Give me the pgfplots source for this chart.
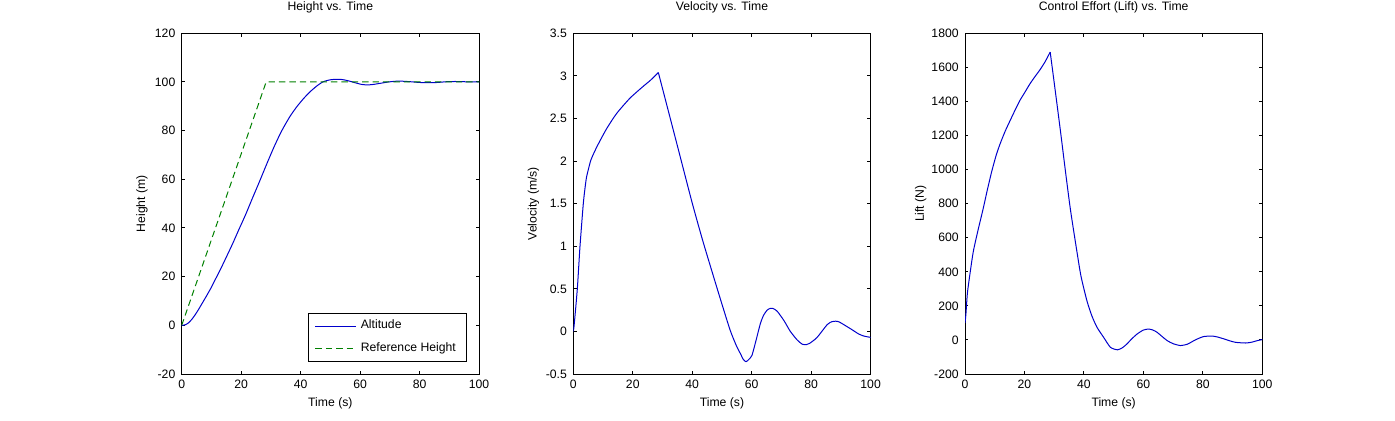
\documentclass[border=0pt]{standalone}
\usepackage{pgfplots}
\pgfplotsset{compat=1.18}
\usepackage{fontspec}
\setmainfont{Liberation Sans}

\definecolor{mblue}{rgb}{0,0,0.8}
\definecolor{mgreen}{rgb}{0,0.5,0}

% Altitude response (s, m)
\pgfplotstableread{
t h
0 0
0.7 0.08
1.35 0.3
2.25 1.0
3.36 2.4
4.5 4.3
5.8 6.8
7 9.3
8.4 12.2
10 15.7
11.2 18.6
13 22.9
14.6 27
17 33.2
19.1 39
21.5 45.5
23.6 51.7
26 58.6
28.6 66.3
30.8 72.6
32.5 77.1
34.2 81.2
36.5 86.0
38.7 89.8
41 93.2
43.2 96
45.5 98.4
47.6 100.1
50 100.9
52 101.1
54 101
56 100.5
58 99.8
60.5 99
62.5 98.8
64.5 99
67 99.5
69.5 100
72 100.3
74.5 100.3
77 100.1
80 99.8
83 99.7
86 99.8
89 100.1
92 100.2
95 100.1
100 100
}\altitude

% Reference height ramp
\pgfplotstableread{
t h
0 0
28.4 100
100 100
}\refheight

% Vertical velocity while the reference ramps (s, m/s)
\pgfplotstableread{
t v
0 0
0.3 0.08
1.35 0.5
2.25 1.0
3.36 1.5
4 1.7
4.5 1.82
5.8 2.0
7 2.1
8.4 2.2
11.2 2.38
14.6 2.56
19.1 2.74
23.6 2.88
26 2.95
28.6 3.04
}\velocityA

% Vertical velocity after the ramp (s, m/s)
\pgfplotstableread{
t v
28.6 3.04
35 2.18
39.9 1.52
43.5 1.07
47.2 0.64
50 0.32
52.8 0.01
55 -0.18
56.2 -0.26
57.2 -0.33
58.1 -0.355
59 -0.33
60.1 -0.28
61.5 -0.1
62.9 0.09
64 0.19
65.2 0.25
66.2 0.27
67.1 0.27
68.5 0.24
70.8 0.13
73 0.0
75.3 -0.1
77 -0.15
78.4 -0.155
79.5 -0.14
82 -0.07
85.4 0.08
87 0.115
88.2 0.12
89.5 0.11
93.3 0.03
96 -0.03
97.8 -0.055
100 -0.07
}\velocityB

% Lift command while the reference ramps (s, N)
\pgfplotstableread{
t L
0 100
0.3 150
0.8 274
1.7 392
2.8 520
4.4 646
6.1 770
7.5 880
9 990
10.5 1085
11.8 1151
13.5 1225
15.2 1289
17 1355
18.5 1407
20 1450
21.9 1505
23.5 1545
25.3 1588
27 1635
28.65 1690
}\liftA

% Lift command after the ramp (s, N)
\pgfplotstableread{
t L
28.65 1690
30 1510
32 1240
34 960
35.5 760
37.6 523
39 375
41 230
42.7 140
44.4 74
46.6 16
48.9 -43
51.3 -58
53 -45
54.5 -23
56 5
57.9 35
60 58
61.8 64
63.2 58
64.6 45
66.3 20
68 -4
70 -22
72.5 -33
74.8 -25
77 -4
78.7 10
80.3 20
83.1 23
85 17
87.1 6
89 -5
91 -14
94.4 -18
96.5 -13
98.3 -4
100 2
}\liftB

\pgfplotsset{
  panel/.style={
    scale only axis, width=148.65pt, height=170.35pt,
    anchor=south west,
    xmin=0, xmax=100, xtick={0,20,...,100},
    axis line style={line width=0.5pt},
    every tick/.style={black, line width=0.5pt},
    major tick length=1.7pt,
    tick align=inside,
    font=\fontsize{6.1}{7}\selectfont,
    /pgf/number format/assume math mode=true,
    /pgf/number format/1000 sep={},
    yticklabel style={inner sep=0pt, anchor=east, xshift=-3pt},
    xticklabel style={inner sep=0pt, anchor=north, yshift=-3pt},
    title style={at={(0.5,1)}, anchor=base, yshift=5.3pt, inner sep=0pt},
    xlabel style={at={(0.5,0)}, anchor=base, yshift=-16pt, inner sep=0pt},
    every axis plot/.append style={line width=0.5pt},
  },
  curve/.style={mblue, no marks, smooth, tension=0.4},
}

\begin{document}
\begin{tikzpicture}
\useasboundingbox (0,0) rectangle (697.5pt,210pt);

\begin{axis}[panel, at={(90.85pt,23pt)},
  ymin=-20, ymax=120, ytick={-20,0,...,120},
  title={Height vs. Time}, xlabel={Time (s)}, ylabel={Height (m)},
  ylabel style={at={(-0.1231,0.5)}, anchor=base, inner sep=0pt},
  legend style={at={(1,0)}, anchor=south east, xshift=-6.15pt, yshift=6.15pt,
    draw=black, line width=0.5pt, inner xsep=3.2pt, inner ysep=1.5pt,
    row sep=1.2pt, font=\fontsize{6.1}{7}\selectfont},
  legend cell align=left,
  legend image code/.code={\draw[#1] (0pt,0pt) -- (20.5pt,0pt);},
]
\addplot[curve] table[x=t, y=h] {\altitude};
\addlegendentry{Altitude}
\addplot[mgreen, no marks, dash pattern=on 3.2pt off 2pt] table[x=t, y=h] {\refheight};
\addlegendentry{Reference Height}
\end{axis}

\begin{axis}[panel, at={(286.65pt,23pt)},
  ymin=-0.5, ymax=3.5, ytick={-0.5,0,...,3.5},
  title={Velocity vs. Time}, xlabel={Time (s)}, ylabel={Velocity (m/s)},
  ylabel style={at={(-0.1238,0.5)}, anchor=base, inner sep=0pt},
]
\addplot[curve] table[x=t, y=v] {\velocityA};
\addplot[curve] table[x=t, y=v] {\velocityB};
\end{axis}

\begin{axis}[panel, at={(482.5pt,23pt)},
  ymin=-200, ymax=1800, ytick={-200,0,...,1800},
  title={Control Effort (Lift) vs. Time}, xlabel={Time (s)}, ylabel={Lift (N)},
  ylabel style={at={(-0.138,0.5)}, anchor=base, inner sep=0pt},
]
\addplot[curve] table[x=t, y=L] {\liftA};
\addplot[curve] table[x=t, y=L] {\liftB};
\end{axis}
\end{tikzpicture}
\end{document}
